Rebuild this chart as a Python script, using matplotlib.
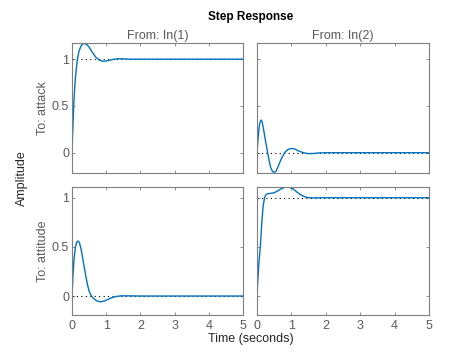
"""Step response grid: two inputs (columns) by two outputs (rows)."""
import numpy as np
import matplotlib
matplotlib.use("Agg")
import matplotlib.pyplot as plt

# time (s) and amplitude for each input/output pair
t_att_in1 = [0, 0.02, 0.05, 0.08, 0.1, 0.15, 0.2, 0.25, 0.3, 0.37, 0.45, 0.5, 0.6, 0.7,
             0.8, 0.9, 1.0, 1.1, 1.2, 1.35, 1.5, 1.7, 2.0, 5.0]
y_att_in1 = [0, 0.22, 0.5, 0.7, 0.8, 0.98, 1.08, 1.13, 1.16, 1.17, 1.15, 1.13, 1.07, 1.02,
             0.99, 0.978, 0.98, 0.99, 0.998, 1.005, 1.004, 1.0, 1.0, 1.0]

t_att_in2 = [0, 0.03, 0.06, 0.09, 0.12, 0.15, 0.2, 0.25, 0.3, 0.35, 0.4, 0.45, 0.5, 0.55,
             0.6, 0.7, 0.8, 0.9, 1.0, 1.1, 1.2, 1.35, 1.5, 1.65, 1.8, 2.0, 5.0]
y_att_in2 = [0, 0.15, 0.27, 0.33, 0.35, 0.33, 0.23, 0.12, 0.02, -0.08, -0.16, -0.2, -0.21, -0.2,
             -0.16, -0.07, 0.0, 0.035, 0.046, 0.04, 0.02, 0.0, -0.01, -0.008, -0.002, 0.0, 0.0]

t_alt_in1 = [0, 0.03, 0.06, 0.1, 0.14, 0.18, 0.22, 0.27, 0.3, 0.35, 0.4, 0.45, 0.5, 0.55,
             0.6, 0.7, 0.8, 0.86, 0.95, 1.05, 1.15, 1.3, 1.45, 1.6, 2.0, 5.0]
y_alt_in1 = [0, 0.22, 0.38, 0.5, 0.55, 0.56, 0.54, 0.47, 0.41, 0.31, 0.21, 0.12, 0.05, 0.01,
             -0.015, -0.045, -0.057, -0.058, -0.05, -0.035, -0.018, -0.004, 0.002, 0.002, 0.0, 0.0]

t_alt_in2 = [0, 0.03, 0.06, 0.1, 0.14, 0.18, 0.22, 0.26, 0.3, 0.4, 0.5, 0.6, 0.7, 0.8, 0.88,
             0.95, 1.05, 1.15, 1.25, 1.35, 1.45, 1.6, 1.8, 2.0, 5.0]
y_alt_in2 = [0, 0.2, 0.36, 0.52, 0.75, 0.92, 1.0, 1.03, 1.04, 1.045, 1.05, 1.07, 1.09, 1.105, 1.11,
             1.105, 1.09, 1.06, 1.035, 1.015, 1.003, 0.998, 0.999, 1.0, 1.0]

final_values = [[1, 0], [0, 1]]
input_names = ["In(1)", "In(2)"]
output_names = ["attack", "attitude"]
row_ylims = [(-0.22, 1.17), (-0.193, 1.106)]
yticks = [0, 0.5, 1]
xticks = [0, 1, 2, 3, 4, 5]

curves = [[(t_att_in1, y_att_in1), (t_att_in2, y_att_in2)],
          [(t_alt_in1, y_alt_in1), (t_alt_in2, y_alt_in2)]]

W, H = 474, 355
plt.rcParams["font.family"] = ["Liberation Sans", "DejaVu Sans"]
fig = plt.figure(figsize=(W / 100, H / 100), dpi=100)

lefts = [72, 257]
widths = [171, 172]
tops = [43.3, 187.3]
bottoms = [173.3, 315]
grey = "#5a5a5a"
edge = "#7f7f7f"

for r in range(2):
    for c in range(2):
        ax = fig.add_axes([lefts[c] / W, 1 - bottoms[r] / H, widths[c] / W, (bottoms[r] - tops[r]) / H])
        t, y = curves[r][c]
        ax.plot([0, 5], [final_values[r][c]] * 2, color="black", ls=(0, (1, 3)), lw=0.8)
        ax.plot(t, y, color="#0072BD", lw=1.0)
        ax.set_xlim(0, 5)
        ax.set_ylim(*row_ylims[r])
        ax.set_xticks(xticks)
        ax.set_yticks(yticks)
        ax.tick_params(direction="in", top=True, right=True, length=2.5, width=0.6,
                       colors=edge, labelcolor=grey, labelsize=9)
        ax.tick_params(axis="x", pad=3.5)
        ax.tick_params(axis="y", pad=2)
        ax.set_yticklabels(["0", "0.5", "1"] if c == 0 else [])
        ax.set_xticklabels([str(v) for v in xticks] if r == 1 else [])
        for s in ax.spines.values():
            s.set_color(edge)
            s.set_linewidth(0.8)
        if r == 0:
            ax.set_title("From: " + input_names[c], fontsize=9, color=grey, pad=3)
        if c == 0:
            ax.set_ylabel("To: " + output_names[r], fontsize=9, color=grey, labelpad=2)

fig.text(250.5 / W, 1 - 17 / H, "Step Response", ha="center", va="center",
         fontsize=8.5, fontweight="bold", color="black")
fig.text(22 / W, 1 - 178 / H, "Amplitude", rotation=90, ha="center", va="center",
         fontsize=9, color="#262626")
fig.text(250.5 / W, 1 - 333 / H, "Time (seconds)", ha="center", va="top",
         fontsize=9, color="#262626")

fig.savefig("out.png", dpi=100)
